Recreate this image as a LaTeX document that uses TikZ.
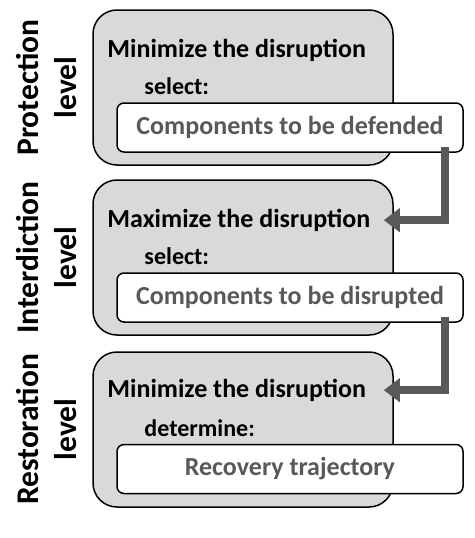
\documentclass[tikz,border=0pt]{standalone}
\usepackage{fontspec}
\setmainfont{Carlito}
\usetikzlibrary{positioning,calc,arrows.meta}

\definecolor{boxgray}{HTML}{D9D9D9}
\definecolor{textgray}{HTML}{595959}

\begin{document}
\begin{tikzpicture}[
    x=1pt, y=-1pt,
    levelbox/.style={draw, line width=1.5pt, rounded corners=24pt, fill=boxgray,
        minimum width=300pt, minimum height=155pt},
    choicebox/.style={draw, line width=1.5pt, rounded corners=7pt, fill=white,
        minimum width=346pt, minimum height=49pt, text=textgray,
        font=\bfseries\fontsize{26}{31}\selectfont},
    goal/.style={anchor=base west, inner sep=0pt, font=\bfseries\fontsize{26}{31}\selectfont},
    task/.style={anchor=base west, inner sep=0pt, font=\bfseries\fontsize{24}{28}\selectfont},
    sidelabel/.style={rotate=90, align=center, inner sep=0pt,
        font=\bfseries\fontsize{31.5}{38}\selectfont},
    flowarrow/.style={draw=textgray, line width=8pt, -{Triangle[length=16pt,width=23pt]}}
]
    \useasboundingbox (0,0) rectangle (474,538);

    % the three levels
    \node[levelbox] (prot) at (243,87.5) {};
    \node[levelbox] (intr) at (243,257.5) {};
    \node[levelbox] (rest) at (243,429.5) {};

    \node[sidelabel] (protlab) at (47,87.5) {Protection\\level};
    \node[sidelabel] (intrlab) at (47,257.5) {Interdiction\\level};
    \node[sidelabel] (restlab) at (47,429.5) {Restoration\\level};

    % objectives and decisions
    \node[goal] (protgoal) at ($(prot.north west)+(15,48)$) {Minimize the disruption};
    \node[task] (prottask) at ($(prot.north west)+(52,85)$) {select:};
    \node[choicebox] (protsel) at ($(prot.center)+(47,40)$) {Components to be defended};

    \node[goal] (intrgoal) at ($(intr.north west)+(15,48)$) {Maximize the disruption};
    \node[task] (intrtask) at ($(intr.north west)+(52,85)$) {select:};
    \node[choicebox] (intrsel) at ($(intr.center)+(47,40)$) {Components to be disrupted};

    \node[goal] (restgoal) at ($(rest.north west)+(15,46)$) {Minimize the disruption};
    \node[task] (resttask) at ($(rest.north west)+(52,85)$) {determine:};
    \node[choicebox] (restsel) at ($(rest.center)+(47,39.5)$) {Recovery trajectory};

    % passing the decisions down
    \coordinate (protout) at ($(protsel.south east)+(-19,-6)$);
    \coordinate (intrin) at ($(intr.east |- intrgoal.center)+(-10,0)$);
    \draw[flowarrow] (protout) |- (intrin);

    \coordinate (introut) at ($(intrsel.south east)+(-19,-6)$);
    \coordinate (restin) at ($(rest.east |- restgoal.center)+(-10,0)$);
    \draw[flowarrow] (introut) |- (restin);
\end{tikzpicture}
\end{document}
